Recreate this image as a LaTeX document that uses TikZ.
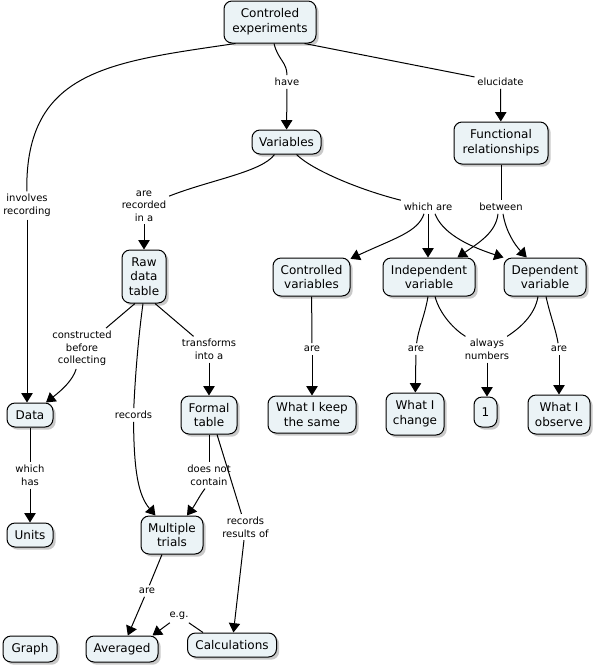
\documentclass[tikz,border=0pt]{standalone}
\usepackage{fontspec}
\setmainfont{DejaVu Sans}
\usetikzlibrary{arrows.meta,shadows,calc}
\definecolor{cfill}{RGB}{235,243,246}
\tikzset{
  cpt/.style={draw=black, line width=0.75pt, rounded corners=6pt, fill=cfill,
    align=center, inner sep=2pt, font=\fontsize{9}{11}\selectfont,
    drop shadow={shadow xshift=2pt, shadow yshift=-2pt, fill=black!30, opacity=0.7}},
  lbl/.style={align=center, inner sep=2pt, font=\fontsize{7.5}{9.5}\selectfont},
  ln/.style={line width=0.75pt},
  arr/.style={line width=0.75pt, -{Triangle[length=7pt,width=8.5pt]}}
}
\begin{document}
\begin{tikzpicture}[x=0.75pt,y=-0.75pt]
\useasboundingbox (0,0) rectangle (596,669);
% concepts
\node[cpt, minimum width=69pt, minimum height=31.5pt] (ce) at (270,22) {Controled\\experiments};
\node[cpt, minimum width=51.75pt, minimum height=18pt] (var) at (286.5,142) {Variables};
\node[cpt, minimum width=70.5pt, minimum height=31.5pt] (fr) at (501,143) {Functional\\relationships};
\node[cpt, minimum width=33pt, minimum height=39.75pt] (raw) at (144,276.5) {Raw\\data\\table};
\node[cpt, minimum width=57.75pt, minimum height=28.5pt] (cv) at (311.5,277) {Controlled\\variables};
\node[cpt, minimum width=69pt, minimum height=28.5pt] (iv) at (429,277) {Independent\\variable};
\node[cpt, minimum width=61.5pt, minimum height=28.5pt] (dv) at (545,277) {Dependent\\variable};
\node[cpt, minimum width=34.5pt, minimum height=18pt] (data) at (30,415) {Data};
\node[cpt, minimum width=42pt, minimum height=28.5pt] (ft) at (209,415) {Formal\\table};
\node[cpt, minimum width=66pt, minimum height=27.75pt] (keep) at (312,414.5) {What I keep\\the same};
\node[cpt, minimum width=43.5pt, minimum height=31.5pt] (chg) at (415,414) {What I\\change};
\node[cpt, minimum width=17.25pt, minimum height=22.5pt] (one) at (485.5,412) {1};
\node[cpt, minimum width=46.5pt, minimum height=29.25pt] (obs) at (559,414.5) {What I\\observe};
\node[cpt, minimum width=34.5pt, minimum height=18pt] (units) at (30,535) {Units};
\node[cpt, minimum width=46.5pt, minimum height=28.5pt] (mt) at (172,535) {Multiple\\trials};
\node[cpt, minimum width=40.5pt, minimum height=19.5pt] (graph) at (30,649) {Graph};
\node[cpt, minimum width=54pt, minimum height=19.5pt] (av) at (122,649) {Averaged};
\node[cpt, minimum width=66.75pt, minimum height=18pt] (calc) at (232,645) {Calculations};
% linking phrases
\node[lbl] (have) at (287,82) {have};
\node[lbl] (eluc) at (500.5,82) {elucidate};
\node[lbl] (ir) at (27,205.5) {involves\\recording};
\node[lbl] (arec) at (144,206) {are\\recorded\\in a};
\node[lbl] (wa) at (428,207) {which are};
\node[lbl] (btw) at (501,207) {between};
\node[lbl] (cbc) at (82,348.5) {constructed\\before\\collecting};
\node[lbl] (tia) at (209,349.5) {transforms\\into a};
\node[lbl] (rec) at (133.5,415) {records};
\node[lbl] (are1) at (312,349) {are};
\node[lbl] (are2) at (416,349) {are};
\node[lbl] (an) at (487,349.5) {always\\numbers};
\node[lbl] (are3) at (559,349) {are};
\node[lbl] (wh) at (30,475.5) {which\\has};
\node[lbl] (dnc) at (209,475.5) {does not\\contain};
\node[lbl] (rro) at (245.5,527) {records\\results of};
\node[lbl] (are4) at (147,591) {are};
\node[lbl] (eg) at (179,616) {e.g.};
% connectors
\draw[ln] ($(ce.south)+(4,0)$) .. controls (278,60) and (287,62) .. (have);
\draw[arr] (have) -- (var);
\draw[ln] ($(ce.south east)+(-12,0)$) -- (eluc);
\draw[arr] (eluc) -- (fr);
\draw[ln] ($(ce.south west)+(12,0)$) .. controls (110,62) and (25,70) .. (ir);
\draw[arr] (ir) -- (ir |- data.north);
\draw[ln] ($(var.south)+(-12,0)$) .. controls (262,172) and (210,180) .. (arec);
\draw[arr] (arec) -- (raw);
\draw[ln] ($(var.south)+(10,0)$) .. controls (312,170) and (360,190) .. (wa);
\draw[arr] ($(wa.south)+(-4,0)$) .. controls (418,232) and (395,238) .. (cv);
\draw[arr] (wa) -- (wa |- iv.north);
\draw[arr] ($(wa.south)+(7,0)$) .. controls (442,232) and (465,245) .. (dv.north west);
\draw[ln] (fr) -- (btw);
\draw[arr] ($(btw.south)+(-3,0)$) .. controls (496,232) and (480,242) .. (iv);
\draw[arr] ($(btw.south)+(2,0)$) .. controls (506,232) and (515,245) .. (dv);
\draw[ln] ($(raw.south)+(-9,0)$) -- (cbc);
\draw[arr] (cbc) .. controls (73,380) and (62,390) .. (data);
\draw[ln] ($(raw.south)+(-1,0)$) .. controls (138,340) and (135,380) .. (rec);
\draw[arr] (rec) .. controls (134,470) and (138,495) .. (mt);
\draw[ln] ($(raw.south)+(11,0)$) -- (tia);
\draw[arr] (tia) -- (ft);
\draw[ln] (ft) -- (dnc);
\draw[arr] ($(dnc.south)+(-4,0)$) .. controls (200,495) and (195,505) .. (mt);
\draw[ln] ($(ft.south)+(8,0)$) -- (rro);
\draw[arr] (rro) -- (calc);
\draw[ln] ($(mt.south)+(-10,0)$) -- (are4);
\draw[arr] (are4) -- (av);
\draw[ln] ($(calc.north west)+(16,0)$) -- (eg);
\draw[arr] (eg) -- ($(av.north east)+(-6,0)$);
\draw[ln] (data) -- (wh);
\draw[arr] (wh) -- (units);
\draw[ln] (cv) -- (are1);
\draw[arr] (are1) -- (keep);
\draw[ln] ($(iv.south)+(-1,0)$) .. controls (425,315) and (418,330) .. (are2);
\draw[arr] (are2) -- (chg);
\draw[ln] ($(iv.south)+(6,0)$) .. controls (440,315) and (455,330) .. (an);
\draw[ln] ($(dv.south)+(-7,0)$) .. controls (535,315) and (520,328) .. (an);
\draw[arr] (an) -- (an |- one.north);
\draw[ln] ($(dv.south)+(1,0)$) .. controls (550,315) and (556,330) .. (are3);
\draw[arr] (are3) -- (obs);
\end{tikzpicture}
\end{document}
